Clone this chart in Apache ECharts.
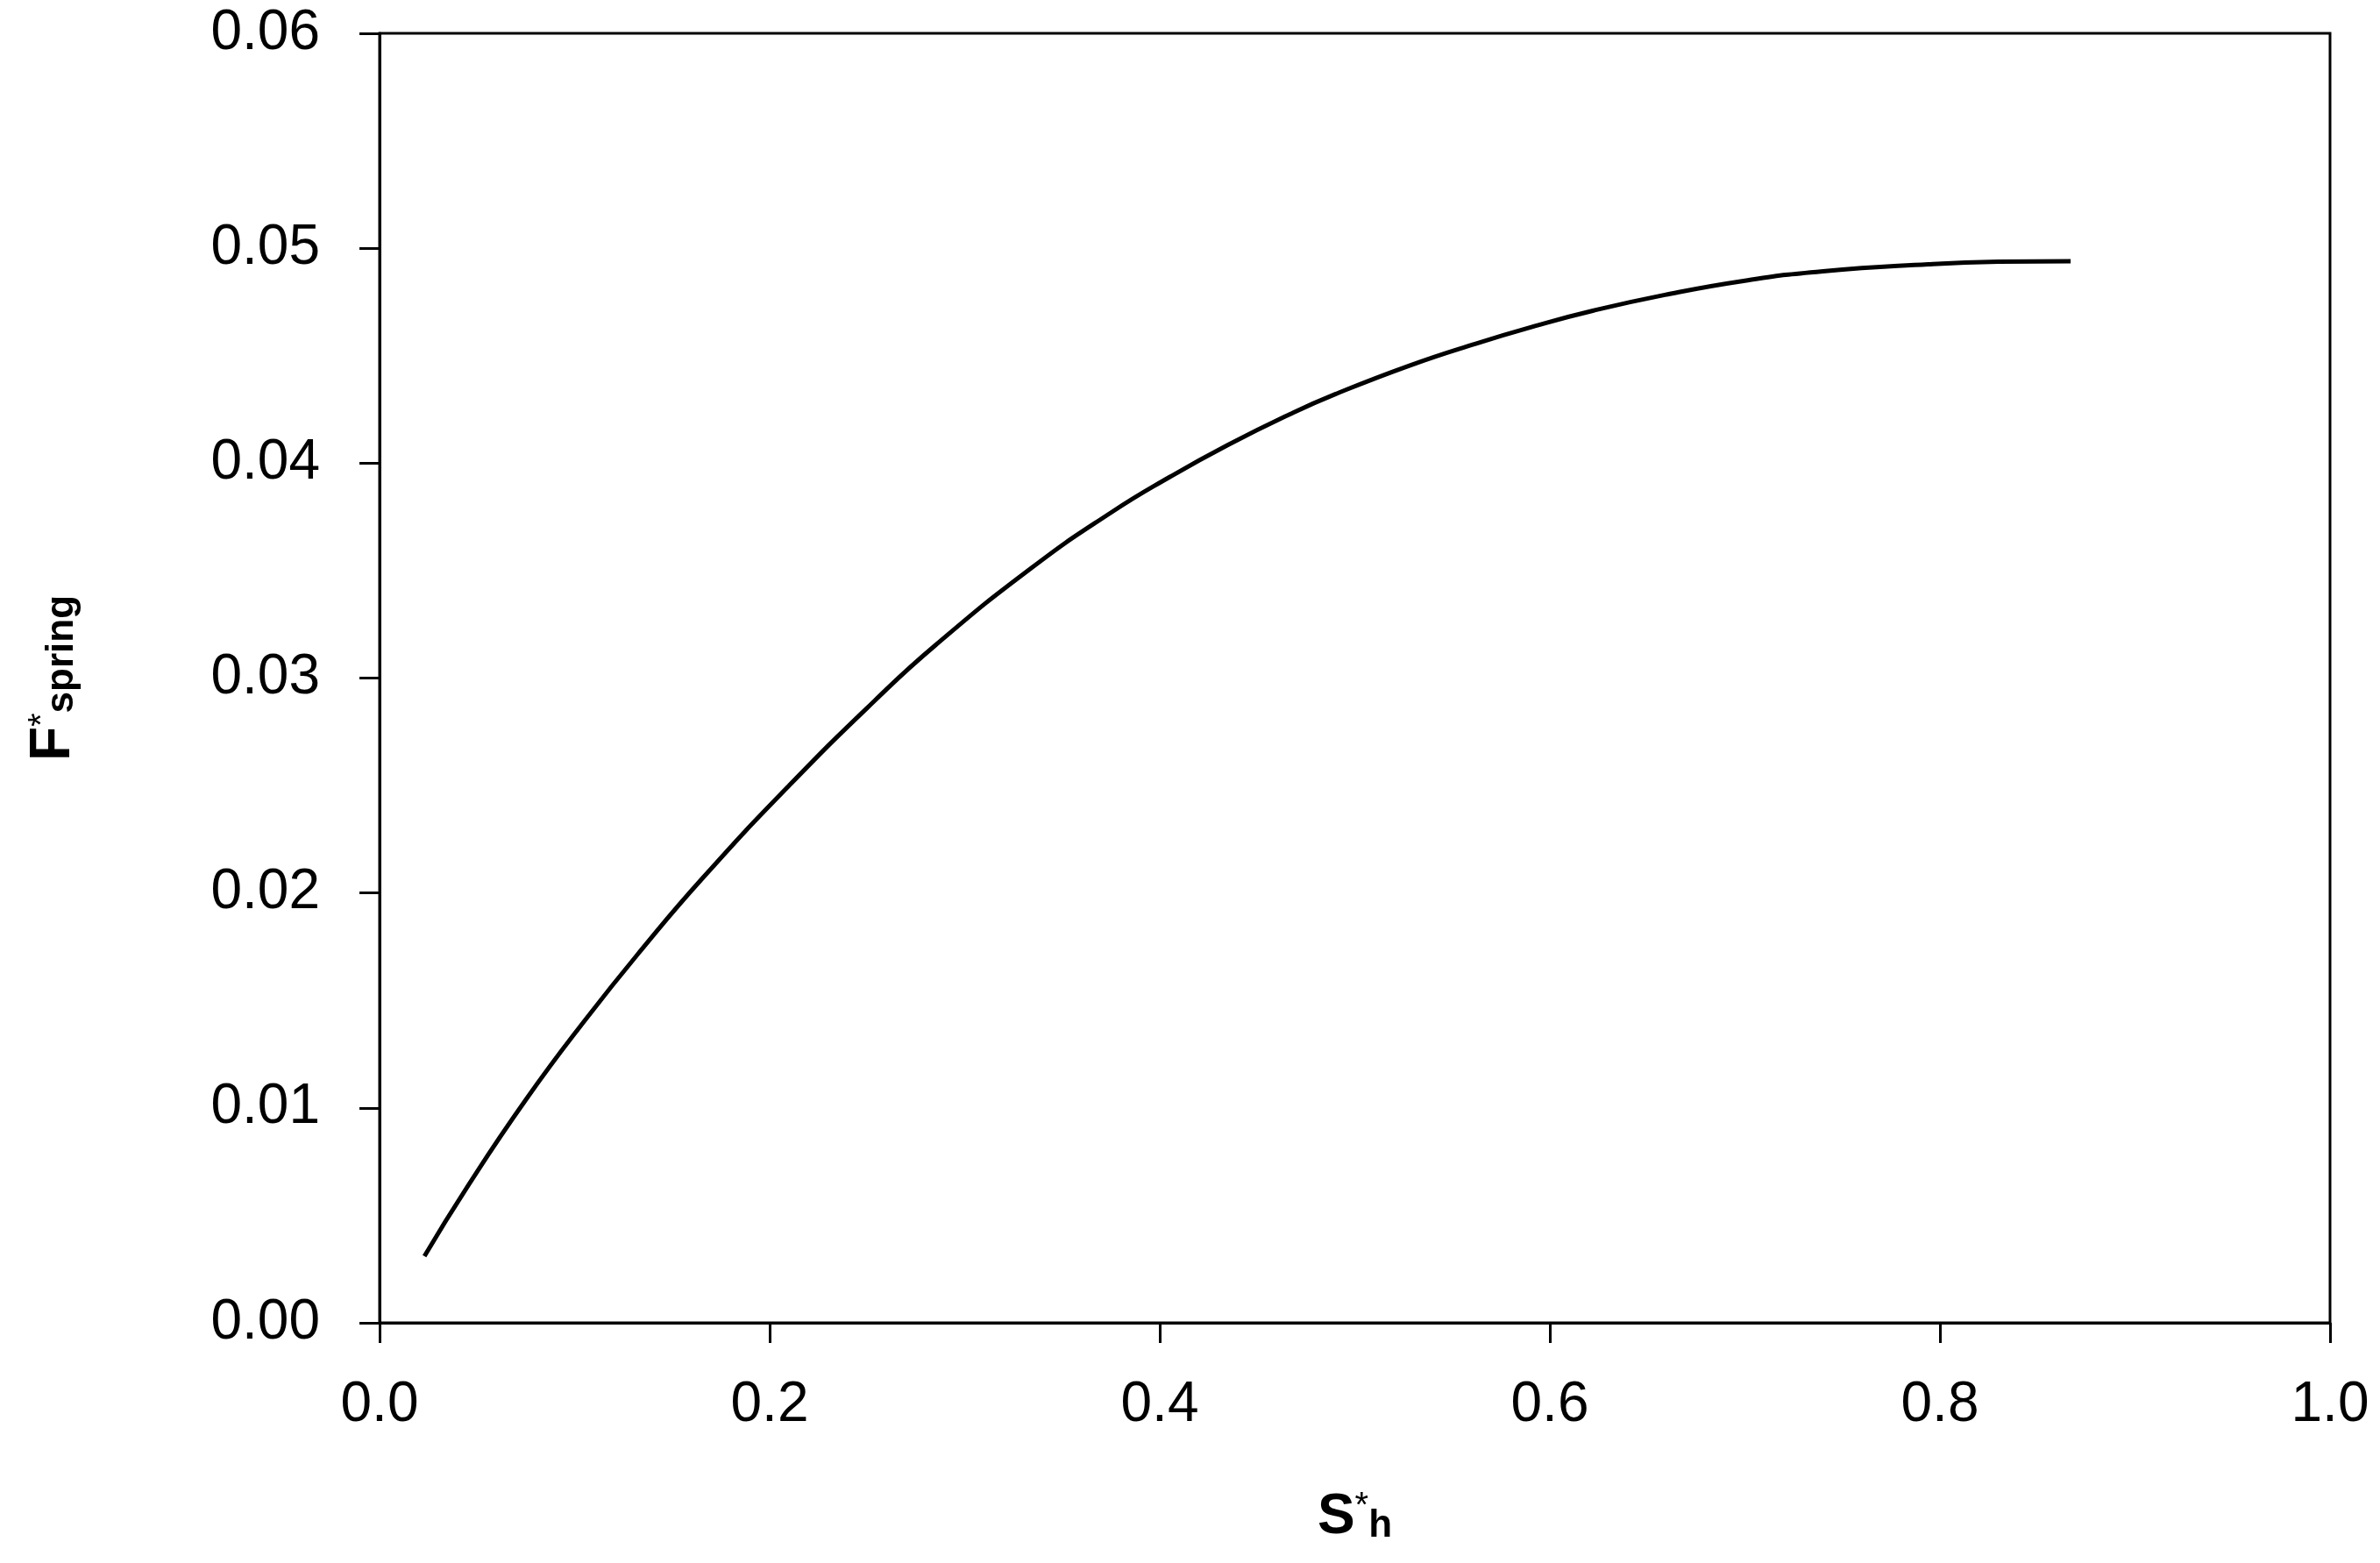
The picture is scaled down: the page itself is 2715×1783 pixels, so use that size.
<!DOCTYPE html>
<html>
<head>
<meta charset="utf-8">
<script src="https://cdn.jsdelivr.net/npm/echarts@6/dist/echarts.min.js"></script>
<style>
  html, body { margin: 0; padding: 0; background: #fff; }
  #chart { width: 2715px; height: 1783px; }
</style>
</head>
<body>
<div id="chart"></div>
<script>
  // values
  var shValues = [0.023, 0.045, 0.075, 0.105, 0.135, 0.166, 0.210, 0.254, 0.285, 0.334, 0.375, 0.405,
                  0.435, 0.467, 0.490, 0.528, 0.562, 0.592, 0.622, 0.659, 0.700, 0.740, 0.794, 0.830, 0.867];
  var fSpringValues = [0.00310, 0.00633, 0.01038, 0.01404, 0.01744, 0.02073, 0.02500, 0.02896, 0.03153, 0.03511,
                       0.03770, 0.03935, 0.04085, 0.04229, 0.04321, 0.04454, 0.04556, 0.04637, 0.04709, 0.04783,
                       0.04849, 0.04893, 0.04925, 0.04937, 0.04940];

  var xTicks = [0, 1, 0.2];    // min, max, interval
  var yTicks = [0, 0.06, 0.01];

  var points = shValues.map(function (x, i) { return [x, fSpringValues[i]]; });

  var font = '"Liberation Sans", Arial, sans-serif';

  var chart = echarts.init(document.getElementById('chart'));
  chart.setOption({
    animation: false,
    backgroundColor: '#fff',
    grid: {
      left: 433,
      right: 57,
      top: 38,
      bottom: 274,
      show: true,
      borderColor: '#000',
      borderWidth: 3
    },
    xAxis: {
      type: 'value',
      min: xTicks[0],
      max: xTicks[1],
      interval: xTicks[2],
      splitLine: { show: false },
      axisLine: { lineStyle: { color: '#000', width: 3 } },
      axisTick: { length: 23, lineStyle: { color: '#000', width: 3 } },
      axisLabel: {
        margin: 62,
        color: '#000',
        fontSize: 64,
        fontFamily: font,
        formatter: function (v) { return v.toFixed(1); }
      },
      name: '{a|S}{b|*}{c|h}',
      nameLocation: 'middle',
      nameGap: 190,
      nameTextStyle: {
        rich: {
          a: { fontSize: 64, fontWeight: 'bold', fontFamily: font, color: '#000', lineHeight: 64, verticalAlign: 'bottom' },
          b: { fontSize: 40, fontFamily: font, color: '#000', lineHeight: 20, verticalAlign: 'top' },
          c: { fontSize: 44, fontWeight: 'bold', fontFamily: font, color: '#000', lineHeight: 30, verticalAlign: 'bottom' }
        }
      }
    },
    yAxis: {
      type: 'value',
      min: yTicks[0],
      max: yTicks[1],
      interval: yTicks[2],
      splitLine: { show: false },
      axisLine: { lineStyle: { color: '#000', width: 3 } },
      axisTick: { length: 23, lineStyle: { color: '#000', width: 3 } },
      axisLabel: {
        margin: 68,
        color: '#000',
        fontSize: 64,
        fontFamily: font,
        formatter: function (v) { return v.toFixed(2); }
      },
      name: '{a|F}{b|*}{c|spring}',
      nameLocation: 'middle',
      nameGap: 340,
      nameTextStyle: {
        rich: {
          a: { fontSize: 64, fontWeight: 'bold', fontFamily: font, color: '#000', lineHeight: 64, verticalAlign: 'bottom' },
          b: { fontSize: 40, fontFamily: font, color: '#000', lineHeight: 20, verticalAlign: 'top' },
          c: { fontSize: 44, fontWeight: 'bold', fontFamily: font, color: '#000', lineHeight: 44, verticalAlign: 'bottom' }
        }
      }
    },
    series: [
      {
        type: 'line',
        data: points,
        smooth: true,
        showSymbol: false,
        lineStyle: { color: '#000', width: 5 }
      }
    ]
  });
</script>
</body>
</html>
